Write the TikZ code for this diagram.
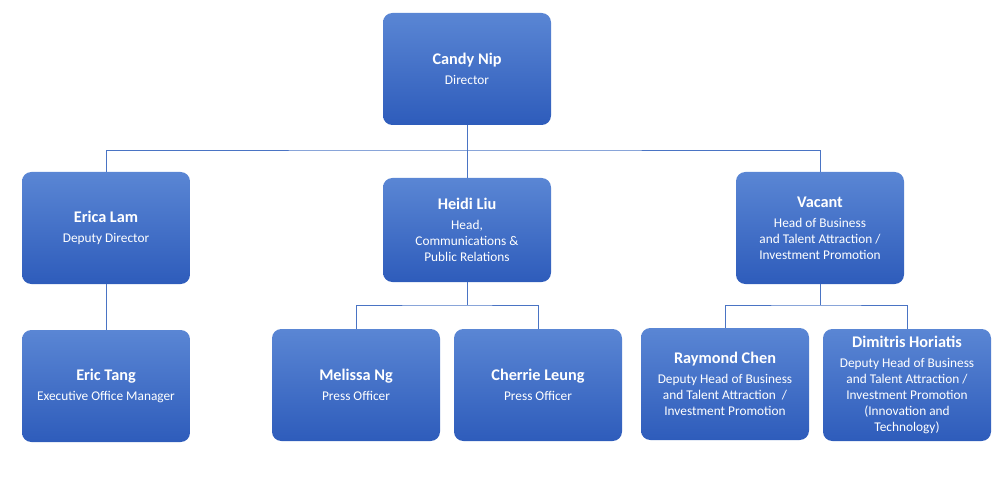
\documentclass[tikz,border=0pt]{standalone}
\usepackage{fontspec}
\setmainfont{Carlito}
\usepackage{tikz}
\definecolor{boxtop}{HTML}{5A86D4}
\definecolor{boxbot}{HTML}{2E5CBB}
\definecolor{linkblue}{HTML}{4A74C4}
\newcommand{\pname}[1]{{\fontsize{12.2}{14}\selectfont\bfseries #1}\\[3pt]}
\newcommand{\prole}{\fontsize{10}{11.25}\selectfont}
\tikzset{
  person/.style={rounded corners=7pt,top color=boxtop,bottom color=boxbot,draw=none,
    text=white,align=center,minimum width=126pt,minimum height=84pt,inner sep=2pt},
  link/.style={draw=linkblue,line width=0.6pt}
}
\begin{document}
\begin{tikzpicture}[x=0.75pt,y=-0.75pt]
\useasboundingbox (0,0) rectangle (1005,477);
% top level
\node[person] (candy) at (467,69) {\pname{Candy Nip}\prole Director};
% second level
\node[person] (erica) at (106,228) {\pname{Erica Lam}\prole Deputy Director};
\node[person,minimum height=78pt] (heidi) at (467,230) {\pname{Heidi Liu}\prole Head,\\ Communications \&\\ Public Relations};
\node[person] (vacant) at (820,228) {\pname{Vacant}\prole Head of Business\\ and Talent Attraction /\\ Investment Promotion};
% third level
\node[person] (eric) at (106,386) {\pname{Eric Tang}\prole Executive Office Manager};
\node[person] (melissa) at (356,385) {\pname{Melissa Ng}\prole Press Officer};
\node[person] (cherrie) at (538,385) {\pname{Cherrie Leung}\prole Press Officer};
\node[person] (raymond) at (725,384) {\pname{Raymond Chen}\prole Deputy Head of Business\\ and Talent Attraction \ /\\ Investment Promotion};
\node[person] (dimitris) at (907,385) {\pname{Dimitris Horiatis}\prole Deputy Head of Business\\ and Talent Attraction /\\ Investment Promotion\\ (Innovation and\\ Technology)};
% connectors
\coordinate (bus) at (467,150);
\coordinate (hbus) at (447,305);
\coordinate (vbus) at (816,305);
\draw[link] (candy.south) -- (heidi.north);
\draw[link] (erica.north) |- (bus) -| (vacant.north);
\draw[link] (erica.south) -- (eric.north);
\draw[link] (heidi.south) -- (heidi.south |- hbus);
\draw[link] (melissa.north) |- (hbus) -| (cherrie.north);
\draw[link] (vacant.south) -- (vacant.south |- vbus);
\draw[link] (raymond.north) |- (vbus) -| (dimitris.north);
\end{tikzpicture}
\end{document}
